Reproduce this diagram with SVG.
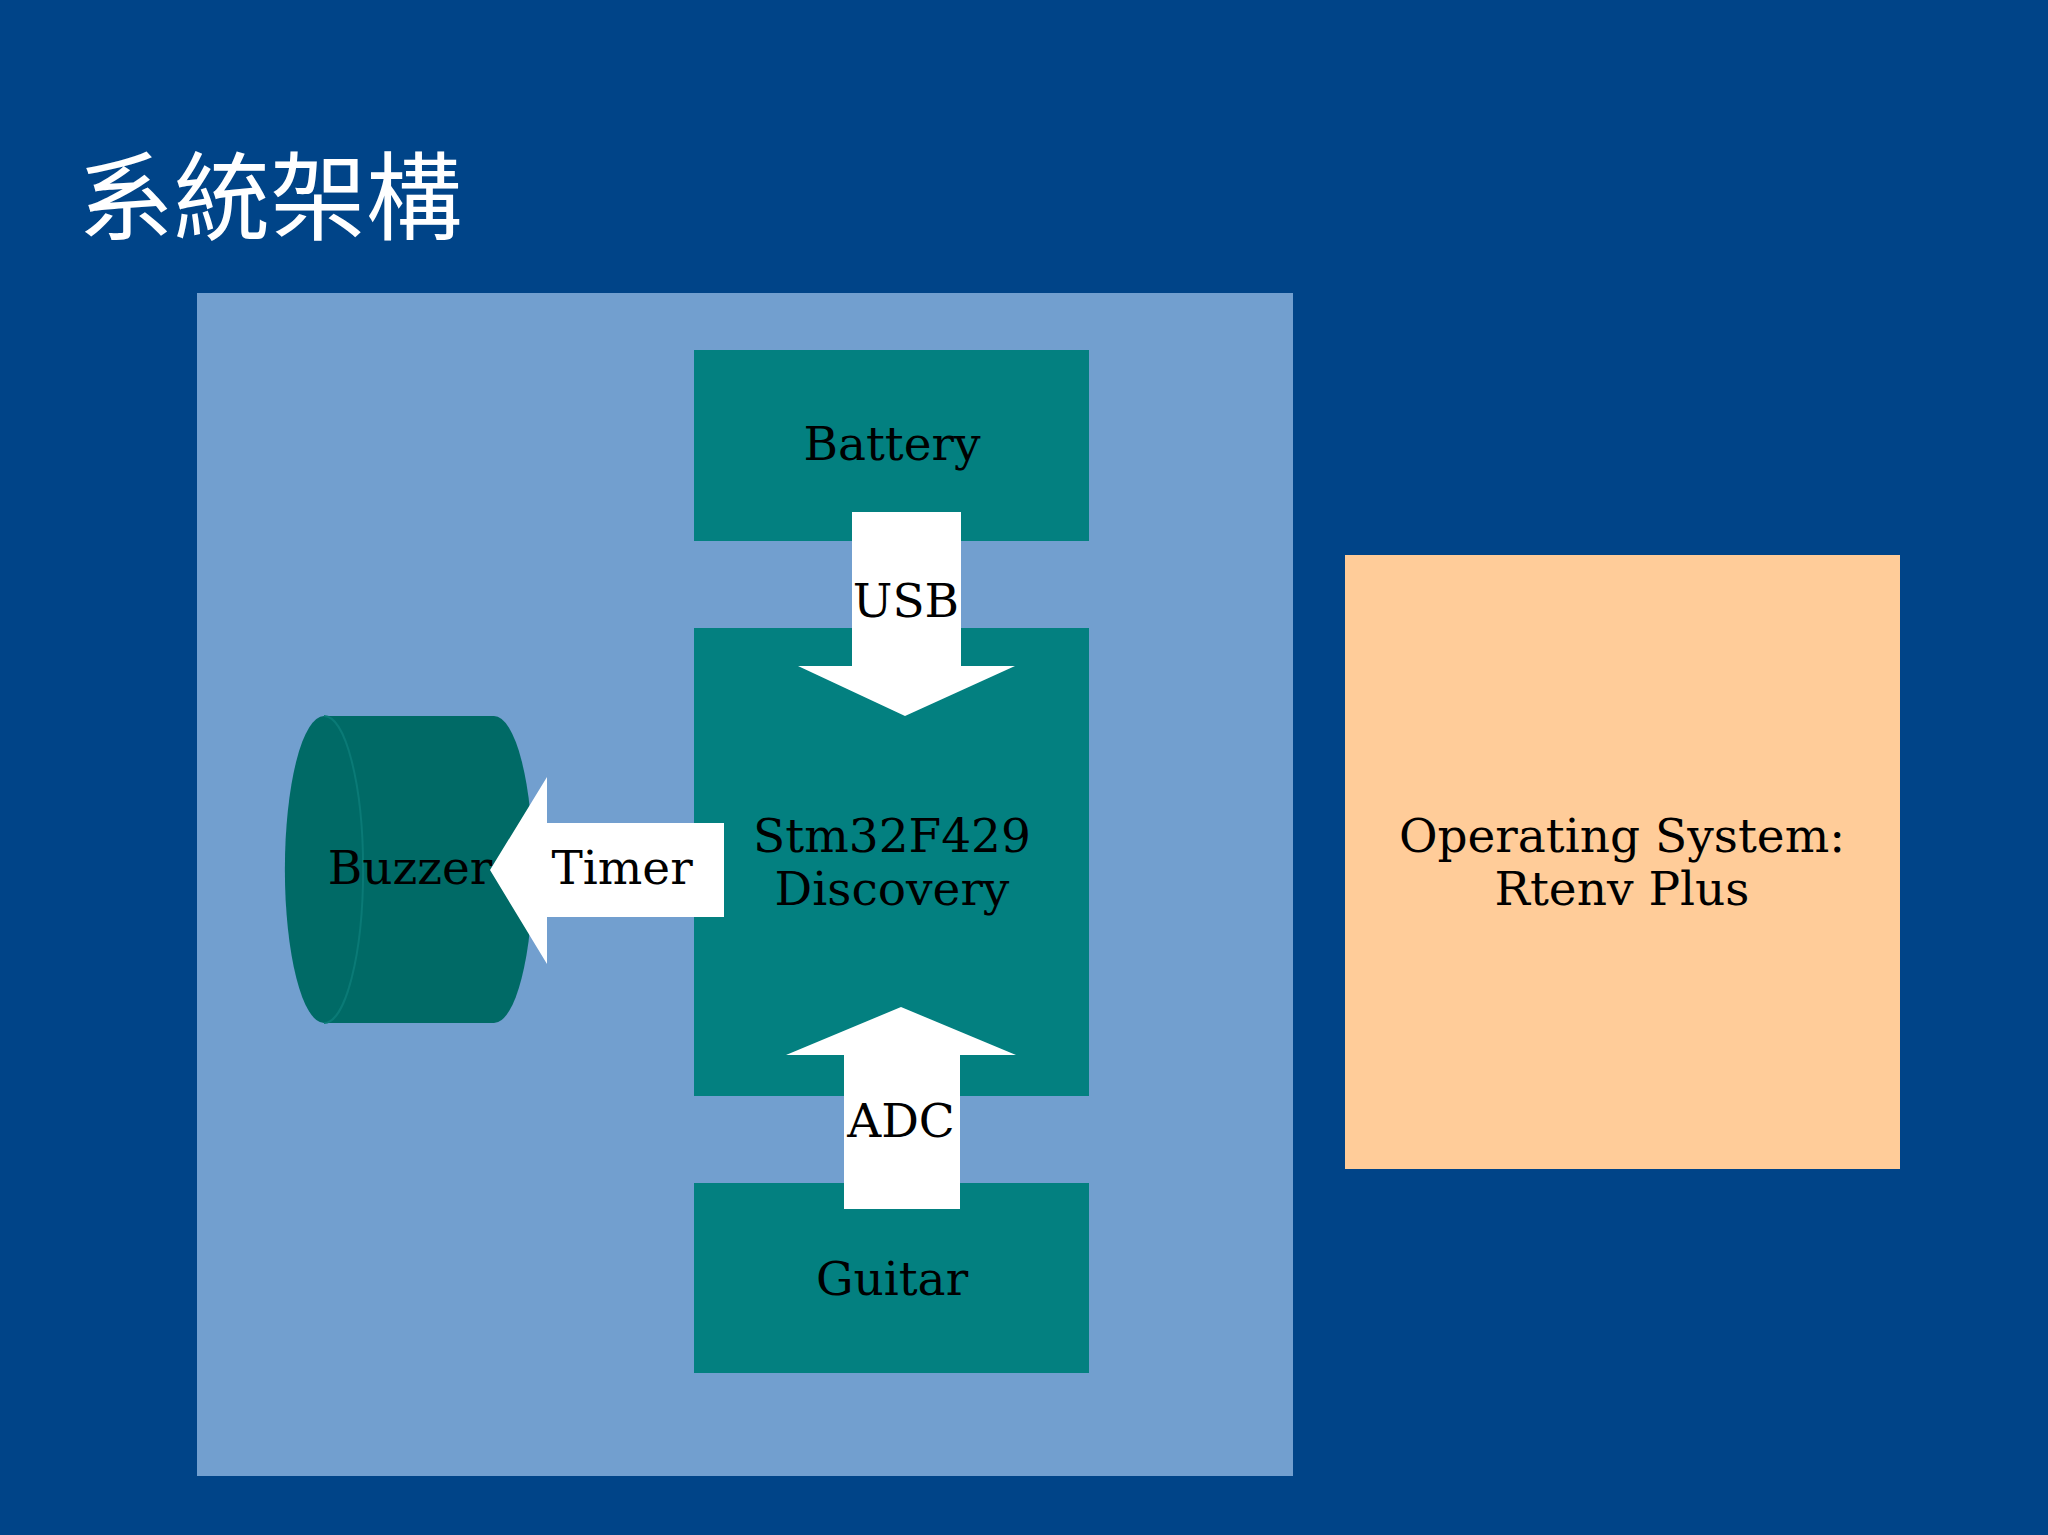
<svg xmlns="http://www.w3.org/2000/svg" width="2048" height="1535" viewBox="0 0 2048 1535">
<style>
.box{fill:#038080}
.arr{fill:#ffffff}
.t{font-family:"DejaVu Serif","Liberation Serif",serif;font-size:47px;fill:#000;text-anchor:middle}
</style>
<rect width="2048" height="1535" fill="#004488"/>
<text x="78" y="232" font-family="'Noto Sans CJK TC',sans-serif" font-size="96" fill="#fff">系統架構</text>
<rect id="panel" x="197" y="293" width="1096" height="1183" fill="#729fcf"/>
<g id="battery"><rect class="box" x="694" y="350" width="395" height="191"/><text class="t" x="892" y="460">Battery</text></g>
<g id="stm"><rect class="box" x="694" y="628" width="395" height="468"/><text class="t" x="892" y="852">Stm32F429</text><text class="t" x="892" y="905">Discovery</text></g>
<g id="guitar"><rect class="box" x="694" y="1183" width="395" height="190"/><text class="t" x="892" y="1295">Guitar</text></g>
<g id="buzzer">
<path d="M324 716 H494 A39 153 0 0 1 494 1023 H324 A39 153 0 0 1 324 716 Z" fill="#006a66"/>
<path d="M324 716 A39 153 0 0 1 324 1023" fill="none" stroke="#0a7a76" stroke-width="2"/>
<text class="t" x="410" y="884">Buzzer</text></g>
<g id="os"><rect x="1345" y="555" width="555" height="614" fill="#ffcc99"/><text class="t" x="1622" y="852">Operating System:</text><text class="t" x="1622" y="905">Rtenv Plus</text></g>
<g id="connectors">
<polygon class="arr" points="852,512 961,512 961,666 1015,666 905,716 798,666 852,666"/>
<text class="t" x="906" y="617">USB</text>
<polygon class="arr" points="844,1209 960,1209 960,1055 1016,1055 901,1007 786,1055 844,1055"/>
<text class="t" x="901" y="1137">ADC</text>
<polygon class="arr" points="724,823 724,917 547,917 547,964 490,870 547,777 547,823"/>
<text class="t" x="622" y="884">Timer</text>
</g>
</svg>
